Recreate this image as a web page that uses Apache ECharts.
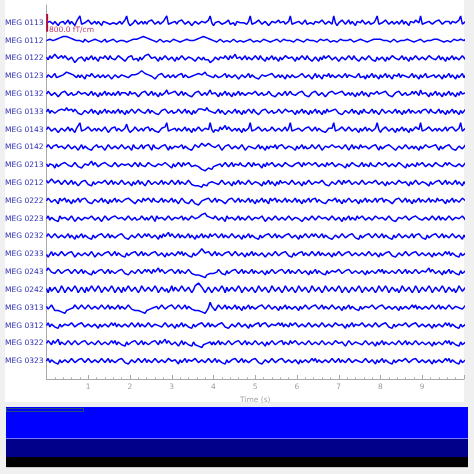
<!DOCTYPE html>
<html><head><meta charset="utf-8">
<script src="https://cdn.jsdelivr.net/npm/echarts@6/dist/echarts.min.js"></script>
<style>html,body{margin:0;padding:0;background:#f0f0f0}#c{width:474px;height:474px}</style>
</head><body><div id="c"></div><script>
// Channel names (top to bottom)
const channelNames = ['MEG 0113','MEG 0112','MEG 0122','MEG 0123','MEG 0132','MEG 0133','MEG 0143','MEG 0142',
  'MEG 0213','MEG 0212','MEG 0222','MEG 0223','MEG 0232','MEG 0233','MEG 0243','MEG 0242',
  'MEG 0313','MEG 0312','MEG 0322','MEG 0323'];
// Time axis ticks (s)
const timeTicks = [1,2,3,4,5,6,7,8,9];
const timeMin = 0, timeMax = 10;
const sampleStep = 0.04;      // s between samples
const baselineDigit = 4;      // digit that sits on the channel baseline
const digitStep = 62;         // fT/cm per digit step
const scaleValue = 800;       // fT/cm per channel spacing (scale bar)
const traces = [
 "43563542455346354254 93244653453542544534 45345346942346534535 35465345345693244535 46533542354335544694 24455334463442544543 35932446534542355446 45533593244553463445 35544653455394244653 46354254465345344693 24465345345346354254 46549324455335465345 453554469335",
 "45544554677678655643 43355334455443453443 54344543344554566576 65564334543445345443 34435445455667766554 45345434433454344534 43543445345443344554 34544543345445345443 45345443543445345445 43543445544334455654 54454334543445435443 34455434454354544534 453454435445",
 "53645764564653353124 35425346354254465364 53465442354634425346 57643542534653354253 46533564423543532312 35435646536457435346 35534653644253463542 53466435425346536442 35425364465335423553 46536442355346534253 35425346645346354253 46533553466453463542 534635534653",
 "35534634455676675435 35425446534534533542 35433554533545566886 65544235465345345335 46355334454675675443 35533446355335423543 46355342356435465345 35425435533446533542 46354254463543355346 35645346344253463542 53463542544635645346 35425346344553354253 463542534635",
 "46534542354653453446 74355346354253463543 53463545536435423546 53463542534574354653 46355342354653453474 35425346354253463543 45644653453446534235 53463464533546534235 46533542354674354653 45354253463542544564 35465342354653453446 46537435425346354253 463542536445",
 "46355345566575564653 42355346354253463543 53463542534653466453 46355342354653453446 53463542534656657564 53463542355346354253 46536442354653453446 53466435425346354253 46354253643546534235 53463542536453463542 46534553463542534635 53453546536453463542 534635425346",
 "46533542355346354254 93244653453553464235 46355345842346534535 46355342355693244535 53463542534653455494 24536457465345354253 45932446534534465345 53463593244553354653 46355342354593244653 46533542534635534594 24465335425346354253 46549324465345355346 354653359335",
 "46535664455346533542 46355342456435424653 35534653354264534635 46426453354642533564 46355342465457656775 54464235465335534642 35645346354253544635 46533564425346353446 53464235544664355346 42463553644553354642 53354664423553465345 35425346643546425335 465342355346",
 "53564253354664534653 42356457465335466453 46534564355346536453 46645335544664425346 53644653345321101221 32455346534635546453 46536435425364465335 53466453354653644664 46533553644653356442 53466453463553645346 64465335534664425335 53644653355346645346 466453355346",
 "64576456534653463542 35465342533564465346 35534653354253463542 46533553463553465346 35534653423221322445 64534653354253463553 46533564425346354253 64355346533542534653 35644653423553465364 46533553465335644653 35425335534664354253 46533564425335465346 355346354253",
 "46533542644635425346 35465342355346354253 46355335466442355364 46536453463553463542 46534235423124354653 46356442354653463553 46354253463542644635 53463553463542534635 46355342356446354253 46533542534635534635 46356442354653463542 53463553463553643542 534635534664",
 "46355342643553464235 53356446533542465335 46643553465335344653 53464264355346533564 46355346543557686756 46533542643553463553 46533564464235534653 35534653356442355346 53466435534653354253 46355364465335534664 35534653423564465335 46645335534653463553 465335644653",
 "46534653355346354253 46355342533546534635 53354653423553465346 46533542536457465346 35534635425346355364 46534635534653354253 46355342533546534635 53354653354253465346 46534635534235534653 35465342533546534653 46355342534653355346 35465342533546534635 534653354253",
 "42463553465335464235 53355346423553354653 46355342533546534635 53354653354253355346 46355342533568754653 46355335465346533542 53463553354235534653 35465342533546355346 53463553354253465335 46533553355346533542 53354653423553465335 46533553354253355346 463553425335",
 "57645346533546534653 46355342533546534635 53354653423553465346 46536457465335465346 35534653423221102132 34465342533546534635 53463553354253465335 46534635534653354253 46355342533564465335 46533553354253355346 46355335534653463553 46533564574653354253 463553425335",
 "52633662475236634752 36526337634752366347 52365263476336524763 36634752366352473663 47633652477996523652 36634752633663475236 63365247633652476336 52476336524763365247 63365247633663475236 52366347523663365247 63475236635247633652 47523663475236634752 366352476336",
 "53464232211021344653 46534653355346534635 53463553465342322110 21324553465335465346 53463553423221102485 42465346355346354253 46355335465346533542 53463553354253465335 46534635534653354253 46355342533564465335 46533553354253355346 46355335534653463553 465335645346",
 "46355342533564465335 46533553354253355346 46355335534653463553 46533564534653354253 46355342533546534635 53354653423553465335 42533556354653355446 46355364465335534653 35534653355346643542 53463564465335534653 35465342533564465335 46533553354253355346 463553425335",
 "46536457355346534653 35465335534653355346 46355342533546534635 53354653645746533542 46355342533221324553 53463553465335465346 35534653354253465335 46355364465335534653 35534653355346643542 46533564534653354253 46355335534653463553 46533553354253355346 463553425335",
 "46355342533553465335 46534653355346534635 53354653423553465346 35534653355346643542 53463564465335534653 46355342533546534635 53354653423553465335 46533553354253355346 46355335534653463553 46533564534653354253 46355342533564465335 46533553354253355346 463553425335"
];
const scaleLabel = '800.0 fT/cm';

const FONT = 'DejaVu Sans';
const traceColor = '#0000ff';
const chart = echarts.init(document.getElementById('c'), null, {renderer: 'canvas'});

const series = traces.map((s, ci) => {
  const digits = s.replace(/\s/g, '');
  const data = [];
  for (let i = 0; i < digits.length; i++) {
    data.push([i * sampleStep, (ci + 1) - (Number(digits[i]) - baselineDigit) * digitStep / scaleValue]);
  }
  return {type: 'line', data, symbol: 'none', showSymbol: false, silent: true, clip: true,
    lineStyle: {color: traceColor, width: 1.5}, z: 3, animation: false};
});
// scale bar: spans one channel spacing (= scaleValue) centred on first channel
series.push({type: 'line', data: [[0.015, 0.5], [0.015, 1.5]], symbol: 'none', silent: true,
  lineStyle: {color: '#b2103c', width: 2}, z: 5, animation: false});

chart.setOption({
  backgroundColor: '#f0f0f0',
  animation: false,
  grid: {left: 46.5, right: 10, top: 5, bottom: 95, containLabel: false},
  xAxis: {
    type: 'value', min: timeMin, max: timeMax, interval: 1, position: 'bottom',
    axisLine: {show: true, onZero: false, lineStyle: {color: '#a8a8a8', width: 1}},
    axisTick: {show: true, inside: true, length: 4, lineStyle: {color: '#a8a8a8'}},
    minorTick: {show: true, splitNumber: 5, length: 2, lineStyle: {color: '#b8b8b8'}},
    splitLine: {show: false},
    axisLabel: {color: '#a0a0a0', fontFamily: FONT, fontSize: 7.5, margin: 4,
      formatter: v => timeTicks.indexOf(v) >= 0 ? String(v) : ''},
    name: 'Time (s)', nameLocation: 'middle', nameGap: 17,
    nameTextStyle: {color: '#a8a8a8', fontFamily: FONT, fontSize: 7.5}
  },
  yAxis: {
    type: 'value', inverse: true, min: 0, max: channelNames.length + 1, interval: 1,
    axisLine: {show: true, onZero: false, lineStyle: {color: '#a8a8a8', width: 1}},
    axisTick: {show: false},
    splitLine: {show: false},
    axisLabel: {color: '#2c2cb4', fontFamily: FONT, fontSize: 7.5, margin: 3,
      formatter: v => channelNames[v - 1] || ''}
  },
  series
});

const pBot = chart.convertToPixel({gridIndex: 0}, [0, 1.5]);
chart.setOption({graphic: [
  {type: 'rect', z: -10, shape: {x: 5, y: 0, width: 459, height: 402}, style: {fill: '#ffffff'}},
  {type: 'rect', z: 10, shape: {x: 6, y: 407, width: 462, height: 31}, style: {fill: '#0000ff'}},
  {type: 'rect', z: 10, shape: {x: 6, y: 438, width: 462, height: 1}, style: {fill: '#7a7aff'}},
  {type: 'rect', z: 10, shape: {x: 6, y: 439, width: 462, height: 18}, style: {fill: '#00008b'}},
  {type: 'rect', z: 10, shape: {x: 6, y: 457, width: 462, height: 10}, style: {fill: '#000000'}},
  {type: 'rect', z: 10, shape: {x: 6, y: 467, width: 462, height: 1}, style: {fill: '#c8c8c8'}},
  {type: 'rect', z: 11, shape: {x: 6.5, y: 408.5, width: 77, height: 3}, style: {fill: 'none', stroke: '#1d4f7a', lineWidth: 1}},
  {type: 'text', z: 12, x: pBot[0] + 2.5, y: pBot[1] - 2,
    style: {text: scaleLabel, fill: '#b83c6c', font: '7.5px "DejaVu Sans"', textAlign: 'left', textVerticalAlign: 'middle'}}
]});
</script></body></html>
